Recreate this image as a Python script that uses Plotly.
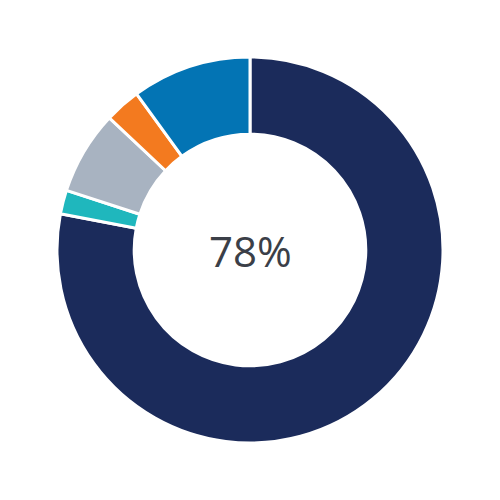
import plotly.graph_objects as go

labels = ["A", "B", "C", "D", "E"]
values = [78, 2, 7, 3, 10]
colors = ["#1b2b5b", "#1fb7bd", "#a8b3c1", "#f37a1f", "#0374b4"]
center_text = "78%"

fig = go.Figure(go.Pie(
    labels=labels,
    values=values,
    hole=0.6,
    sort=False,
    direction="clockwise",
    rotation=0,
    marker=dict(colors=colors, line=dict(color="white", width=3)),
    textinfo="none",
    hoverinfo="label+percent",
))

fig.update_layout(
    width=500, height=500,
    margin=dict(l=49, r=65, t=49, b=65),
    showlegend=False,
    paper_bgcolor="white",
    annotations=[dict(text=center_text, x=0.5, y=0.5, xref="paper", yref="paper",
                      showarrow=False, font=dict(size=42, color="#3b3f48", family="Open Sans"))],
)

fig.write_html("out.html")
